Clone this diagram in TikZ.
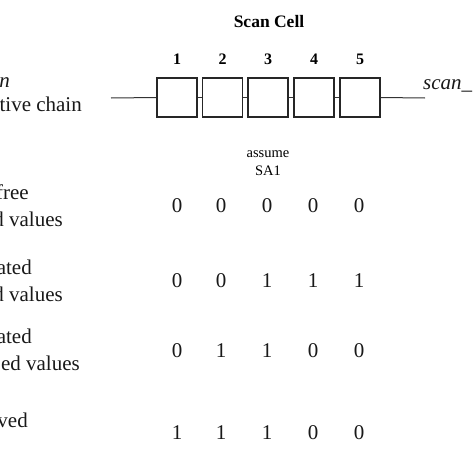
\documentclass[tikz,border=0pt]{standalone}
\usepackage{fontspec}
\setmainfont{Liberation Serif}
\begin{document}
\begin{tikzpicture}[x=1pt,y=-1pt,
  cellbox/.style={draw=black!85,line width=1.6pt,minimum width=40pt,minimum height=39pt,inner sep=0pt},
  chainline/.style={draw=black!80,line width=1pt},
  lbl/.style={font=\fontsize{21}{25}\selectfont,inner sep=0pt,anchor=base east,text=black!90},
  val/.style={font=\fontsize{21}{25}\selectfont,inner sep=0pt,anchor=base,text=black!90},
  cellnum/.style={font=\fontsize{16}{19}\selectfont\bfseries,inner sep=0pt,anchor=base},
  small/.style={font=\fontsize{14.5}{18}\selectfont,inner sep=0pt,anchor=base}]
\useasboundingbox (0,0) rectangle (474,474);
\clip (0,0) rectangle (474,474);
\fill[white] (0,0) rectangle (474,474);
% title
\node[font=\fontsize{17.5}{20}\selectfont\bfseries,inner sep=0pt,anchor=base] (title) at (269,27) {Scan Cell};
% cells
\foreach \i/\x in {1/177,2/222.5,3/268,4/314,5/360}{
  \node[cellbox] (c\i) at (\x,97.5) {};
  \node[cellnum] (n\i) at (\x,64) {\i};
}
\coordinate (lin) at (111,98);
\coordinate (lout) at (425,98);
\draw[chainline] (lin) -- (c1.west);
\draw[chainline] (c1.east) -- (c2.west);
\draw[chainline] (c2.east) -- (c3.west);
\draw[chainline] (c3.east) -- (c4.west);
\draw[chainline] (c4.east) -- (c5.west);
\draw[chainline] (c5.east) -- (lout);
% side labels
\node[lbl,font=\fontsize{21}{25}\selectfont\itshape] (ltop) at (10,87) {n};
\node[lbl] (lchain) at (82,111) {tive chain};
\node[lbl,anchor=base west,font=\fontsize{21}{25}\selectfont\itshape] (rout) at (423,89) {scan\_};
% assume SA1
\node[small] (assume) at (268,157) {assume};
\node[small] (sa) at (268,175) {SA1};
% row labels
\node[lbl] (r1a) at (29,199) {free};
\node[lbl] (r1b) at (63,226) {d values};
\node[lbl] (r2a) at (32,274) {ated};
\node[lbl] (r2b) at (63,301) {d values};
\node[lbl] (r3a) at (32,343) {ated};
\node[lbl] (r3b) at (80,370) {ed values};
\node[lbl] (r4a) at (28,427) {ved};
% values
\foreach \r/\y/\a/\b/\c/\d/\e in {1/212/0/0/0/0/0,2/287/0/0/1/1/1,3/357/0/1/1/0/0,4/439/1/1/1/0/0}{
  \node[val] (v\r a) at (177,\y) {\a};
  \node[val] (v\r b) at (221,\y) {\b};
  \node[val] (v\r c) at (267,\y) {\c};
  \node[val] (v\r d) at (313,\y) {\d};
  \node[val] (v\r e) at (359,\y) {\e};
}
\end{tikzpicture}
\end{document}
